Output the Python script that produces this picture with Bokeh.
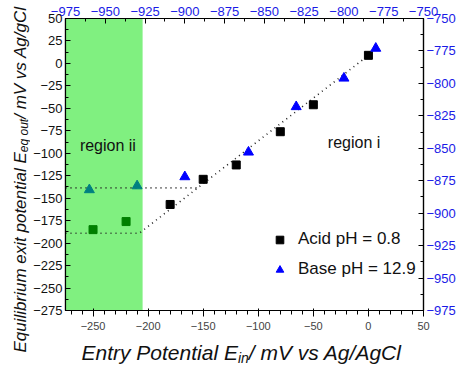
import math
from bokeh.plotting import figure
from bokeh.layouts import row, column
from bokeh.models import (Range1d, LinearAxis, SingleIntervalTicker, BoxAnnotation,
                          Label, Legend, LegendItem)
from bokeh.embed import file_html
from bokeh.resources import INLINE

# ---------------- data ----------------
# Acid pH = 0.8 : entry (bottom axis) and exit (left axis) potentials, mV
acid_entry = [-250, -220, -180, -150, -120, -80, -50, 0]
acid_exit = [-185, -176, -157, -129, -113, -76, -46, 9]
# Base pH = 12.9 : entry (top axis) and exit (right axis) potentials, mV
base_entry = [-960, -930, -900, -860, -830, -800, -780]
base_exit = [-882, -879, -872, -853, -818, -796, -773]
n_region_ii = 2  # the first points of each series lie in region ii

# guide lines (bottom/left axis units)
guide_low_x = [-275, -208, 0]
guide_low_y = [-189, -189, 9]
guide_high_x = [-275, -155]
guide_high_y = [-138.5, -138.5]
region_ii_edge = -205

X0, X1 = -275, 50
Y0, Y1 = -275, 50
TX0, TX1 = -975, -750
RY0, RY1 = -975, -750

FONT = "Liberation Sans"
BLUE = "#1a1ae6"
TXT = "#111111"

LEFT_W = 30          # strip holding the rotated y title
MAIN_W = 458 - LEFT_W
MAIN_H = 332
BOT_H = 32           # strip holding the x title
TOTAL_H = MAIN_H + BOT_H
B_LEFT, B_RIGHT, B_TOP, B_BOT = 30, 30, 18, 20
FRAME_W = MAIN_W - B_LEFT - B_RIGHT

p = figure(width=MAIN_W, height=MAIN_H, x_range=Range1d(X0, X1), y_range=Range1d(Y0, Y1),
           output_backend="svg", toolbar_location=None, frame_align=False,
           min_border_left=B_LEFT, min_border_right=B_RIGHT,
           min_border_top=B_TOP, min_border_bottom=B_BOT,
           background_fill_color="white", border_fill_color="white")
p.extra_x_ranges = {"top": Range1d(TX0, TX1)}
p.extra_y_ranges = {"right": Range1d(RY0, RY1)}
p.xgrid.visible = False
p.ygrid.visible = False
p.outline_line_color = "black"
p.outline_line_width = 1.2

top_axis = LinearAxis(x_range_name="top")
right_axis = LinearAxis(y_range_name="right")
p.add_layout(top_axis, "above")
p.add_layout(right_axis, "right")

for ax, col, standoff in [(p.xaxis[0], TXT, 4), (p.yaxis[0], TXT, 3),
                          (top_axis, BLUE, 3), (right_axis, BLUE, 3)]:
    ax.ticker = SingleIntervalTicker(interval=25, num_minor_ticks=2)
    ax.major_tick_in = 5
    ax.major_tick_out = 0
    ax.minor_tick_in = 3
    ax.minor_tick_out = 0
    ax.axis_line_color = "black"
    ax.axis_line_width = 1.2
    ax.major_tick_line_color = "black"
    ax.minor_tick_line_color = "black"
    ax.major_label_text_font = FONT
    ax.major_label_text_font_size = "13px"
    ax.major_label_text_color = col
    ax.major_label_standoff = standoff

# region ii shading
p.add_layout(BoxAnnotation(left=X0, right=region_ii_edge, fill_color="#80f080", fill_alpha=1.0,
                           line_color=None, level="underlay"))

# dotted guide lines
p.line(guide_low_x, guide_low_y, line_color="#222222", line_width=1.6, line_dash="1 4")
p.line(guide_high_x, guide_high_y, line_color="#222222", line_width=1.6, line_dash="1 4")

# markers
p.scatter(acid_entry[:n_region_ii], acid_exit[:n_region_ii], marker="square", size=8,
          fill_color="#007f00", line_color="#007f00")
r_acid = p.scatter(acid_entry[n_region_ii:], acid_exit[n_region_ii:], marker="square", size=8,
                   fill_color="black", line_color="black")
p.scatter(base_entry[:n_region_ii], base_exit[:n_region_ii], marker="triangle", size=10,
          fill_color="#008080", line_color="#008080", x_range_name="top", y_range_name="right")
r_base = p.scatter(base_entry[n_region_ii:], base_exit[n_region_ii:], marker="triangle", size=10,
                   fill_color="#0000ff", line_color="#0000ff", x_range_name="top", y_range_name="right")

legend = Legend(items=[LegendItem(label="Acid pH = 0.8", renderers=[r_acid]),
                       LegendItem(label="Base pH = 12.9", renderers=[r_base])],
                location=(205, 31), border_line_color=None, background_fill_alpha=0,
                padding=0, margin=0, label_standoff=9, glyph_width=19, glyph_height=19,
                label_height=19, spacing=10, label_text_font=FONT,
                label_text_font_size="17px", label_text_color=TXT)
p.add_layout(legend)

# region labels
for txt, x, y in [("region ii", -236.5, -91), ("region i", -13, -88)]:
    p.add_layout(Label(x=x, y=y, text=txt, text_align="center", text_baseline="middle",
                       text_font=FONT, text_font_size="16px", text_color=TXT))


def strip(w, h):
    f = figure(width=w, height=h, x_range=Range1d(0, w), y_range=Range1d(0, h),
               output_backend="svg", toolbar_location=None, x_axis_type=None, y_axis_type=None,
               min_border=0, min_border_left=0, min_border_right=0, min_border_top=0,
               min_border_bottom=0, outline_line_color=None, frame_align=False,
               background_fill_color="white", border_fill_color="white")
    f.xgrid.visible = False
    f.ygrid.visible = False
    return f


def lab(f, text, x, y, size, angle=0.0):
    f.add_layout(Label(x=x, y=y, text=text, text_align="left", text_baseline="alphabetic",
                       text_font=FONT, text_font_style="italic", text_font_size=size,
                       text_color=TXT, angle=angle))


# bottom strip: x-axis title with subscript (pixel coordinates inside the strip)
bot = strip(MAIN_W, BOT_H)
x_start = B_LEFT + FRAME_W / 2 - 163
lab(bot, "Entry Potential E", x_start, 12, "21px")
lab(bot, "in", x_start + 156.4, 7, "14px")
lab(bot, " / mV vs Ag/AgCl", x_start + 167.3, 12, "21px")

# left strip: rotated y-axis title with subscript
left = strip(LEFT_W, TOTAL_H)
a = math.pi / 2
y_start = 12
lab(left, "Equilibrium exit potential E", 20, y_start, "17px", a)
lab(left, "eq out", 23.5, y_start + 200.3, "12px", a)
lab(left, " / mV vs Ag/gCl", 20, y_start + 233.7, "17px", a)

layout = row(left, column(p, bot, spacing=0), spacing=0)

open("out.html", "w").write(file_html(layout, INLINE))
